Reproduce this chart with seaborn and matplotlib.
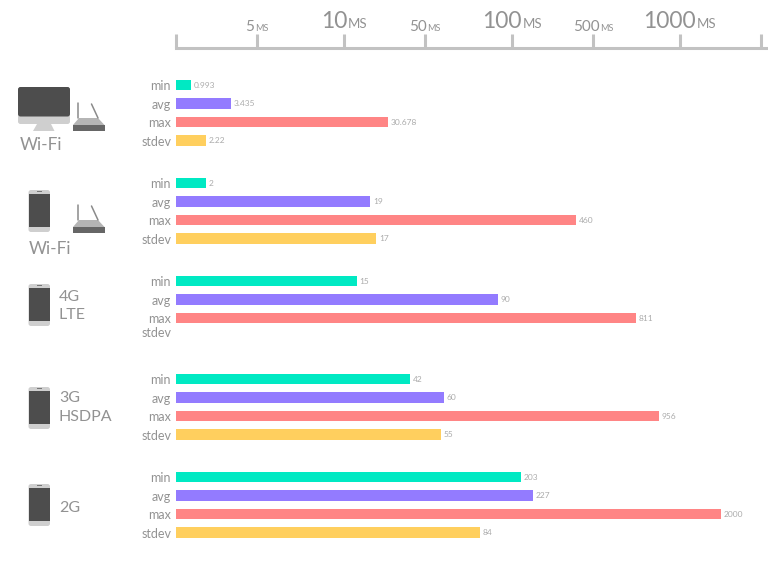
import numpy as np
import pandas as pd
import seaborn as sns
import matplotlib.pyplot as plt
from matplotlib.offsetbox import AnnotationBbox, HPacker, TextArea
from matplotlib.patches import FancyBboxPatch, Polygon, Rectangle

# values
links = ["wifi_desktop", "wifi_phone", "4g", "3g", "2g"]
metrics = ["min", "avg", "max", "stdev"]
# length of each bar, in ms
min_ms = [1.36, 1.83, 12.9, 37.1, 119.6]
avg_ms = [2.99, 16.8, 89.4, 58.0, 152.0]
max_ms = [24.1, 357.0, 704.0, 846.0, 2257.0]
stdev_ms = [1.83, 18.9, np.nan, 56.8, 77.5]
# numbers printed next to the bars
min_text = ["0.993", "2", "15", "42", "203"]
avg_text = ["3.435", "19", "90", "60", "227"]
max_text = ["30.678", "460", "811", "956", "2000"]
stdev_text = ["2.22", "17", "", "55", "84"]

axis_ms = [1, 5, 10, 50, 100, 500, 1000, 5000]
axis_big = [False, False, True, False, True, False, True, False]
colors = ["#00E9C3", "#937BFF", "#FF8585", "#FFCF5E"]

GREY = "#929292"
LINE = "#c2c2c2"
DARK = "#4d4d4d"
LIGHT = "#cfcfcf"

W, H = 768, 570
# the axis is not a true log scale, every label sits about the same distance apart
knot_ms = np.log10([1, 5, 10, 50, 100, 500, 1000, 5000, 6000])
knot_px = np.array([0, 81.5, 168.5, 249.5, 336.5, 417.5, 504.5, 585.5, 592.5])


def forward(v):
    v = np.maximum(np.asarray(v, dtype=float), 1e-6)
    return np.interp(np.log10(v), knot_ms, knot_px)


def inverse(p):
    return 10 ** np.interp(p, knot_px, knot_ms)


df = pd.DataFrame({
    "link": np.repeat(links, 4),
    "metric": metrics * 5,
    "ms": np.array([min_ms, avg_ms, max_ms, stdev_ms]).T.ravel(),
})

sns.set_theme(style="white")
plt.rcParams["font.family"] = ["Lato", "DejaVu Sans"]

fig = plt.figure(figsize=(W / 100, H / 100), dpi=100)
ax = fig.add_axes([175.5 / W, 0, 1 - 175.5 / W, 1 - 47.5 / H])
ax.set_xscale("function", functions=(forward, inverse))

sns.barplot(data=df, y="link", x="ms", hue="metric", order=links, hue_order=metrics,
            palette=colors, width=0.755, gap=0.44, legend=False, ax=ax,
            saturation=1, errorbar=None, linewidth=0)

ax.set_xscale("function", functions=(forward, inverse))
ax.set_xlim(1, 6000)
ax.set_ylim(4.665, -0.666)
ax.set_xlabel("")
ax.set_ylabel("")
ax.set_yticks([])
for side in ["left", "right", "bottom"]:
    ax.spines[side].set_visible(False)
ax.spines["top"].set_color(LINE)
ax.spines["top"].set_linewidth(2.2)
ax.xaxis.tick_top()
ax.set_xticks(axis_ms, labels=[""] * len(axis_ms))
ax.minorticks_off()
ax.tick_params(axis="x", length=10, width=2.2, color=LINE, top=True, bottom=False)

# top axis labels, number and small MS on one baseline
for ms, big in zip(axis_ms[1:-1], axis_big[1:-1]):
    num = TextArea(str(ms), textprops=dict(color=GREY, fontsize=16.5 if big else 11))
    unit = TextArea("MS", textprops=dict(color=GREY, fontsize=9.5 if big else 6.5))
    box = HPacker(children=[num, unit], align="baseline", sep=0.5, pad=0)
    ab = AnnotationBbox(box, (ms, 1), xycoords=("data", "axes fraction"),
                        xybox=(0, 11 if big else 10), boxcoords="offset points",
                        box_alignment=(0.5, 0), frameon=False, annotation_clip=False)
    ax.add_artist(ab)

# bar values and row names, seaborn leaves None in the container for the missing bar
for cont, texts, name in zip(ax.containers, [min_text, avg_text, max_text, stdev_text], metrics):
    for bar in cont:
        if bar is None:
            continue
        y = bar.get_y() + bar.get_height() / 2
        ax.annotate(texts[int(round(y))], (bar.get_width(), y), xytext=(2, 0), textcoords="offset points",
                    ha="left", va="center", fontsize=6, color="#ababab")
        ax.annotate(name, (0, y), xycoords=("axes fraction", "data"), xytext=(-3.2, -3.7),
                    textcoords="offset points", ha="right", va="baseline",
                    fontsize=9, color=GREY, annotation_clip=False)
# the 4G row has no stdev bar but keeps its name
y4g = 2 + 1.5 * 0.755 / 4
ax.annotate("stdev", (0, y4g), xycoords=("axes fraction", "data"), xytext=(-3.2, 0),
            textcoords="offset points", ha="right", va="baseline",
            fontsize=9, color=GREY, annotation_clip=False)

# icons and connection names, pixel coordinates
art = fig.add_axes([0, 0, 1, 1], facecolor="none")
art.set_xlim(0, W)
art.set_ylim(H, 0)
art.axis("off")


def rounded(x, y, w, h, color, r=2):
    art.add_patch(FancyBboxPatch((x + r, y + r), w - 2 * r, h - 2 * r,
                                 boxstyle=f"round,pad={r}", fc=color, ec="none"))


def phone(top):
    rounded(28.5, top, 21.5, 42, LIGHT, r=2.5)
    art.add_patch(Rectangle((28.8, top + 3.5), 21, 33.5, fc=DARK, ec="none"))
    art.add_patch(Rectangle((36.5, top + 1), 5.5, 1.2, fc="#777777", ec="none"))


def router(top):
    art.plot([77.5, 77.5], [top, top + 15], color="#8a8a8a", lw=1.1, solid_capstyle="round")
    art.plot([91.5, 98], [top + 1, top + 15], color="#8a8a8a", lw=1.1, solid_capstyle="round")
    art.add_patch(Polygon([[79, top + 15], [98, top + 15], [104.5, top + 22], [73, top + 22]],
                          fc="#b5b5b5", ec="none"))
    art.add_patch(Rectangle((73, top + 22), 31.5, 5.5, fc="#666666", ec="none"))


def monitor(top):
    rounded(18, top, 52, 37, LIGHT, r=2.5)
    rounded(18, top, 52, 29.5, DARK, r=2.5)
    art.add_patch(Polygon([[37, top + 37], [51, top + 37], [54.5, top + 44], [33, top + 44]],
                          fc=LIGHT, ec="none"))


monitor(87)
router(103)
phone(190)
router(205)
phone(284)
phone(387)
phone(484)

for x, y, s, size in [(20, 145, "Wi-Fi", 12.5), (29, 249, "Wi-Fi", 12.5), (59, 297, "4G", 11.5), (59, 315, "LTE", 11.5),
                      (59, 398, "3G", 11.5), (59, 417, "HSDPA", 11.5), (59, 508, "2G", 11.5)]:
    art.text(x, y, s, fontsize=size, color=GREY, ha="left", va="center")

fig.savefig("out.png", dpi=100)
